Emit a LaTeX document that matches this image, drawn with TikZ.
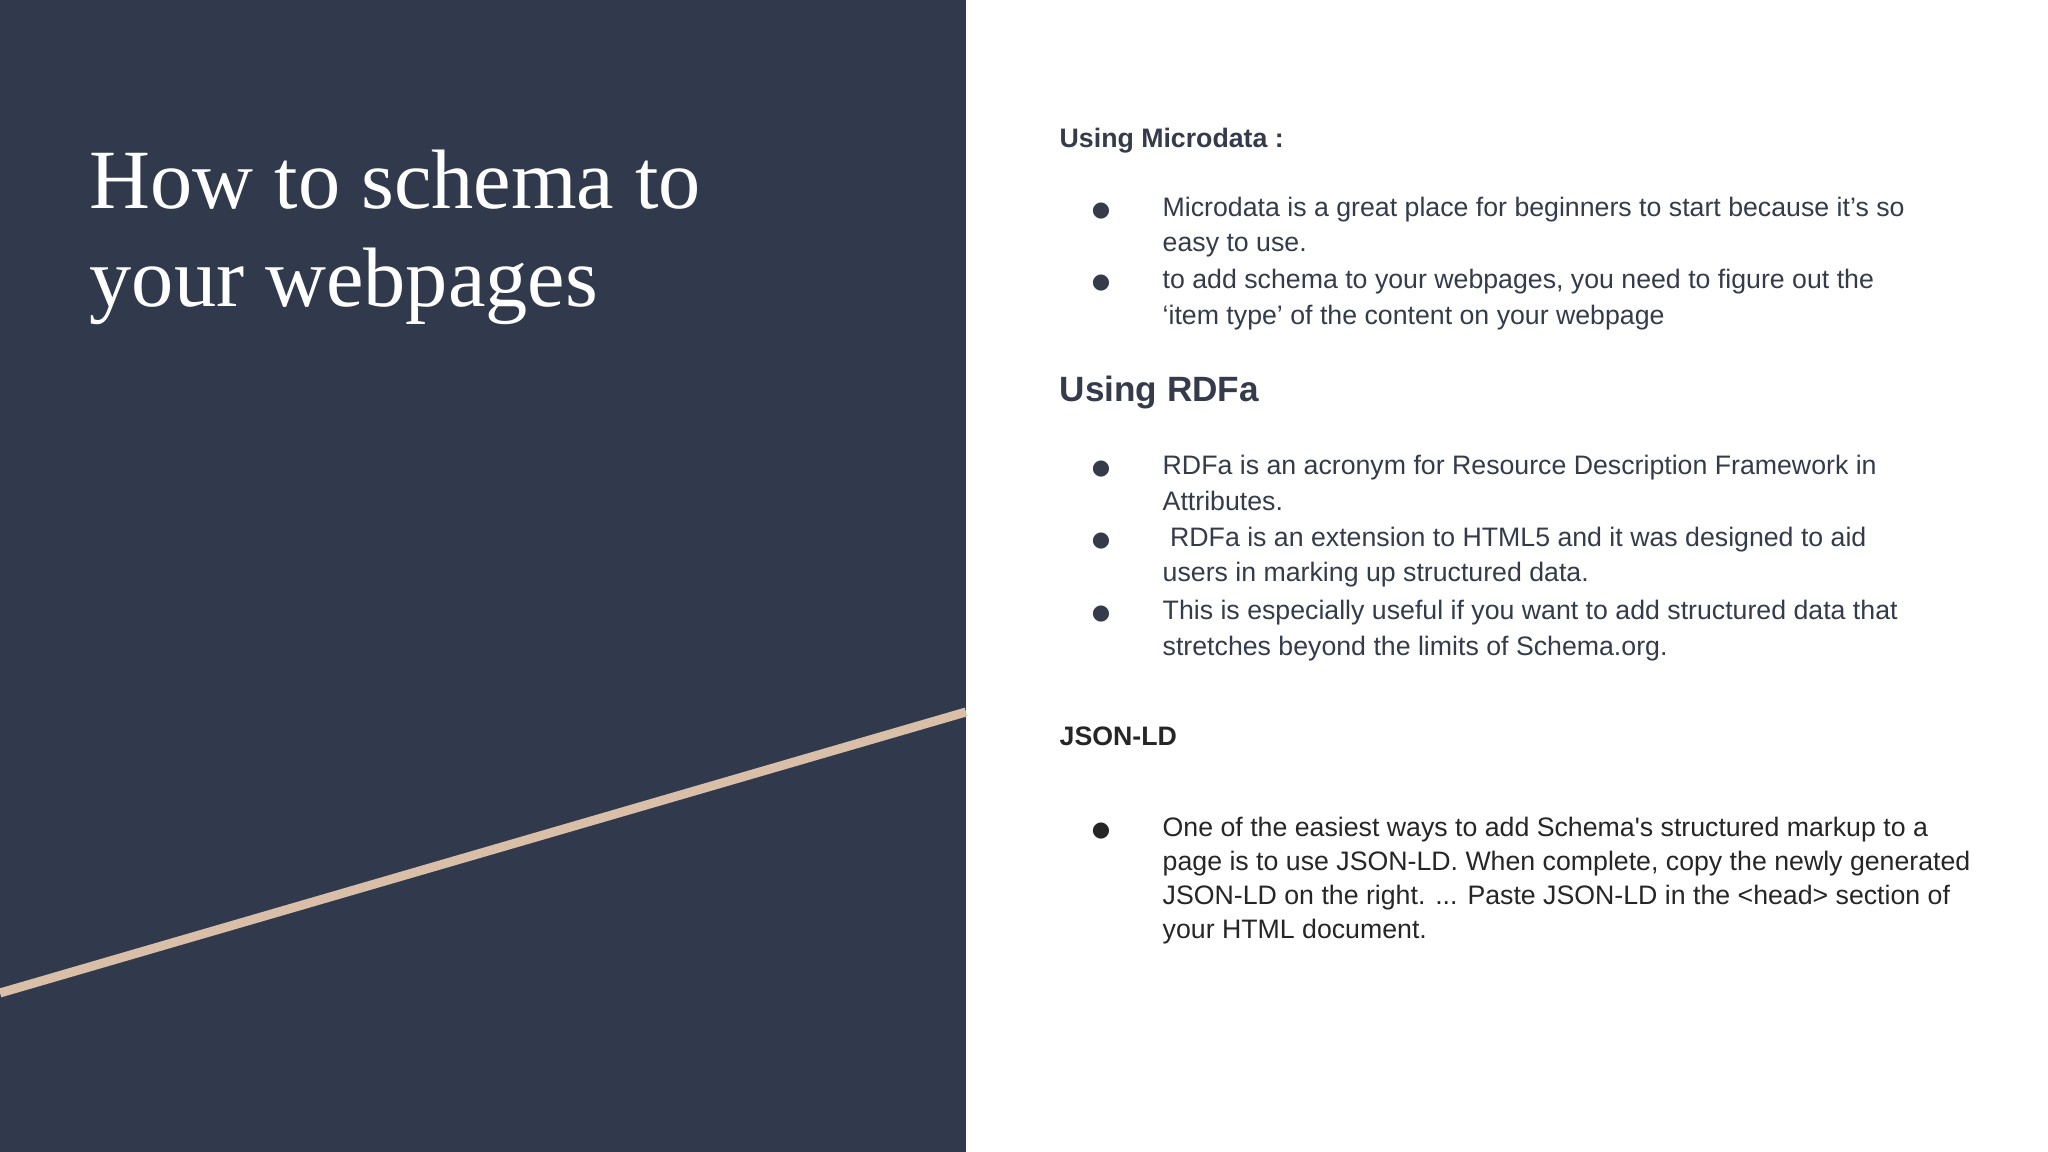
\documentclass[tikz,border=0pt]{standalone}
\usepackage{fontspec}
\setmainfont{Liberation Serif}
\newfontfamily\bodyf{Liberation Sans}
\newfontfamily\symf{DejaVu Sans}
\definecolor{panel}{HTML}{313A4D}
\definecolor{tan}{HTML}{D9BFA8}
\definecolor{txt}{HTML}{353B4B}
\begin{document}
\begin{tikzpicture}[x=1cm,y=1cm,
  ln/.style={anchor=base west,inner sep=0pt,font=\bodyf\fontsize{7.6}{9}\selectfont,text=txt},
  lnb/.style={ln,text=black!85},
  hd/.style={ln,font=\bodyf\bfseries\fontsize{7.6}{9}\selectfont},
  bul/.style={anchor=base,inner sep=0pt,font=\symf\fontsize{6}{7}\selectfont,text=txt}]
\useasboundingbox (0,0) rectangle (20.48,11.52);
\fill[white] (0,0) rectangle (20.48,11.52);
\fill[panel] (0,0) rectangle (9.66,11.52);
\coordinate (l1) at (0,1.59);
\coordinate (l2) at (9.66,4.40);
\draw[tan,line width=0.09cm] (l1) -- (l2);
\node[anchor=base west,inner sep=0pt,text=white,font=\fontsize{24}{28}\selectfont] (t1) at (0.89,9.43) {How to schema to};
\node[anchor=base west,inner sep=0pt,text=white,font=\fontsize{24}{28}\selectfont] (t2) at (0.89,8.45) {your webpages};
\def\bx{11.01}\def\tx{11.62}
\node[hd] (h1) at (10.59,10.04) {Using Microdata :};
\node[bul] (b1) at (\bx,9.35) {●};
\node[ln] (a1) at (\tx,9.35) {Microdata is a great place for beginners to start because it’s so};
\node[ln] (a2) at (\tx,9.00) {easy to use.};
\node[bul] (b2) at (\bx,8.63) {●};
\node[ln] (a3) at (\tx,8.63) {to add schema to your webpages, you need to figure out the};
\node[ln] (a4) at (\tx,8.27) {‘item type’ of the content on your webpage};
\node[hd,font=\bodyf\bfseries\fontsize{10}{12}\selectfont] (h2) at (10.59,7.50) {Using RDFa};
\node[bul] (b3) at (\bx,6.77) {●};
\node[ln] (c1) at (\tx,6.77) {RDFa is an acronym for Resource Description Framework in};
\node[ln] (c2) at (\tx,6.41) {Attributes.};
\node[bul] (b4) at (\bx,6.05) {●};
\node[ln] (c3) at (\tx,6.05) {\ RDFa is an extension to HTML5 and it was designed to aid};
\node[ln] (c4) at (\tx,5.70) {users in marking up structured data.};
\node[bul] (b5) at (\bx,5.32) {●};
\node[ln] (c5) at (\tx,5.32) {This is especially useful if you want to add structured data that};
\node[ln] (c6) at (\tx,4.96) {stretches beyond the limits of Schema.org.};
\node[hd,text=black!85] (h3) at (10.59,4.06) {JSON-LD};
\node[bul,text=black!85] (b6) at (\bx,3.15) {●};
\node[lnb] (d1) at (\tx,3.15) {One of the easiest ways to add Schema's structured markup to a};
\node[lnb] (d2) at (\tx,2.81) {page is to use JSON-LD. When complete, copy the newly generated};
\node[lnb] (d3) at (\tx,2.47) {JSON-LD on the right. ... Paste JSON-LD in the <head> section of};
\node[lnb] (d4) at (\tx,2.13) {your HTML document.};
\end{tikzpicture}
\end{document}
